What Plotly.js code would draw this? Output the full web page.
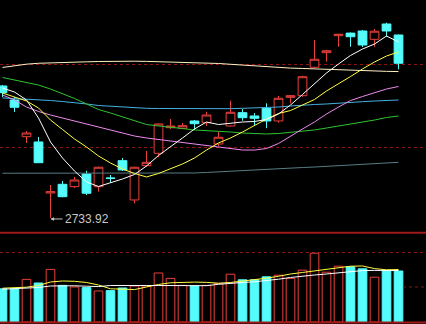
<!DOCTYPE html>
<html>
<head>
<meta charset="utf-8">
<script src="https://cdn.plot.ly/plotly-3.0.1.min.js"></script>
<style>html,body{margin:0;padding:0;background:#000;}#chart{width:426px;height:324px;}</style>
</head>
<body>
<div id="chart"></div>
<script>
// Trading days (categories)
const dates = ['07-31','08-01','08-02','08-05','08-06','08-07','08-08','08-09','08-12','08-13',
  '08-14','08-15','08-16','08-19','08-20','08-21','08-22','08-23','08-26','08-27',
  '08-28','08-29','08-30','09-02','09-03','09-04','09-05','09-06','09-09','09-10',
  '09-11','09-12','09-16','09-17'];

// Daily OHLC (index points)
const openP  = [2942.1,2920.0,2862.1,2853.8,2773.3,2787.0,2783.3,2803.3,2783.3,2797.0,
  2824.3,2762.3,2816.4,2835.9,2876.3,2875.4,2886.9,2884.2,2850.6,2879.0,
  2900.0,2894.8,2906.9,2886.9,2924.2,2926.8,2971.6,2994.6,3021.4,3025.5,
  3028.8,3015.7,3039.9,3022.5];
const highP  = [2943.6,2924.7,2871.1,2861.6,2785.9,2792.2,2798.6,2808.5,2815.0,2801.7,
  2828.5,2814.8,2839.6,2883.0,2890.0,2883.7,2888.5,2901.5,2870.0,2918.9,
  2905.8,2899.5,2914.8,2926.3,2927.9,2958.3,3014.6,2999.0,3024.5,3026.5,
  3030.4,3032.0,3041.9,3023.0];
const lowP   = [2924.7,2901.1,2852.2,2820.5,2733.92,2766.5,2781.2,2770.2,2775.4,2789.6,
  2808.0,2757.1,2814.8,2829.6,2874.3,2873.8,2872.7,2879.0,2847.4,2878.0,
  2887.3,2880.6,2875.5,2884.2,2914.8,2925.2,2970.5,2980.4,3004.0,3004.0,
  3003.6,3004.0,3019.8,2968.4];
const closeP = [2931.5,2908.5,2867.9,2821.1,2775.4,2767.5,2793.8,2772.9,2813.9,2796.5,
  2809.6,2813.9,2821.7,2882.1,2879.0,2879.5,2882.6,2896.3,2861.2,2900.6,
  2892.1,2891.1,2886.9,2922.7,2926.8,2956.7,2984.2,2997.7,3023.6,3019.8,
  3006.7,3028.5,3028.8,2977.9];

// Moving averages
const ma5   = [2938.9,2932.6,2920.0,2891.6,2853.8,2828.5,2808.0,2790.7,2783.6,2789.1,
  2795.4,2802.5,2815.9,2832.5,2845.9,2860.1,2874.3,2885.3,2881.3,2883.7,
  2885.3,2886.1,2889.2,2897.9,2912.1,2928.7,2945.2,2962.6,2976.8,2990.2,
  3000.4,3008.3,3020.9,3011.5];
const ma10  = [2931.0,2924.7,2918.4,2907.4,2888.4,2873.5,2858.5,2845.9,2831.7,2820.6,
  2811.2,2804.1,2798.6,2804.1,2811.2,2819.1,2828.5,2841.1,2852.2,2860.1,
  2869.5,2879.8,2890.0,2898.7,2903.4,2912.1,2920.8,2934.2,2945.2,2957.0,
  2968.9,2979.9,2989.4,2995.7];
const ma20  = [2927.9,2920.0,2908.9,2901.9,2896.3,2891.6,2886.9,2881.3,2876.6,2871.9,
  2867.2,2863.2,2860.1,2857.7,2855.3,2852.2,2849.8,2848.2,2845.9,2842.7,
  2841.1,2841.1,2843.5,2851.4,2863.2,2874.3,2885.3,2897.9,2908.9,2919.2,
  2925.5,2931.8,2937.3,2941.3];
const ma30  = [2955.5,2951.5,2948.4,2943.6,2937.3,2930.2,2922.4,2913.7,2905.0,2899.5,
  2893.2,2886.9,2881.3,2879.0,2877.4,2875.0,2872.7,2871.9,2871.1,2869.5,
  2867.9,2867.2,2866.4,2867.2,2868.7,2870.3,2872.7,2875.8,2879.0,2881.3,
  2884.5,2888.4,2892.4,2894.8];
const ma60  = [2923.2,2922.4,2921.9,2921.1,2919.2,2917.6,2916.0,2913.7,2911.3,2910.1,
  2908.9,2907.4,2906.9,2906.6,2906.4,2906.1,2905.8,2905.8,2905.8,2906.3,
  2906.9,2907.4,2908.2,2908.9,2910.5,2912.1,2912.9,2913.7,2915.3,2916.4,
  2917.3,2918.4,2919.2,2920.0];
const ma120 = [2971.3,2974.4,2976.5,2977.9,2978.7,2979.5,2979.9,2980.2,2980.7,2981.2,
  2981.5,2981.2,2980.9,2980.5,2980.2,2979.9,2979.2,2978.4,2977.6,2976.3,
  2974.9,2973.6,2972.0,2971.1,2970.3,2969.7,2968.9,2968.3,2967.6,2967.0,
  2966.3,2965.7,2965.2,2964.8];
const ma250 = [2804.5,2804.5,2804.5,2804.5,2804.5,2804.5,2804.5,2804.5,2804.5,2804.5,
  2804.5,2804.5,2804.5,2804.5,2804.5,2804.5,2804.9,2805.7,2806.8,2807.7,
  2808.7,2809.6,2810.5,2812.0,2812.8,2813.5,2814.3,2815.4,2816.5,2817.5,
  2818.6,2819.7,2820.6,2821.7];

// Volume and its moving averages
const volume = [166,166,213,195,263,183,175,172,155,157,
  170,180,180,245,218,183,180,183,192,239,
  211,211,226,234,218,259,344,249,279,276,
  266,224,257,255];
const volMaA = [169,171.5,174,182.5,200,205,203.5,197.5,185,166,
  162.5,162,175,187.5,196,199.5,199.5,198,194,197.5,
  203.5,211.5,219,228.5,240,247.5,255,262,270,279,
  280,267,261,262.5];
const volMaB = [164,167.5,169,172.5,180,181,181,179,177,182.5,
  183.5,183,182.5,182.5,182,181,180,181.5,188.5,194,
  197.5,201,206,214,222.5,230,235,240,246,252.5,
  257,258,258,257.5];

const RED = '#e8403c', CYAN = '#54fcfc', GRID = '#8c1414';
const up = closeP.map((c, i) => c >= openP[i]);

function line(y, color, yaxis) {
  return {type:'scatter', mode:'lines', x:dates, y:y, yaxis:yaxis||'y',
    line:{color:color, width:1}, hoverinfo:'skip'};
}

const data = [
  {type:'candlestick', x:dates, open:openP, high:highP, low:lowP, close:closeP,
   increasing:{line:{color:RED, width:1}, fillcolor:'#000000'},
   decreasing:{line:{color:CYAN, width:1}, fillcolor:CYAN},
   whiskerwidth:0, hoverinfo:'skip'},
  line(ma250, '#587c84'),
  line(ma120, '#fff2c4'),
  line(ma60, '#46b0e0'),
  line(ma30, '#2ec42e'),
  line(ma20, '#ee88ee'),
  line(ma10, '#ffff40'),
  line(ma5, '#ffffff'),
  {type:'bar', x:dates, y:volume, yaxis:'y2', width:0.72,
   marker:{color: up.map(u => u ? '#000000' : CYAN),
           line:{color: up.map(u => u ? RED : CYAN), width:1}},
   hoverinfo:'skip'},
  line(volMaA, '#ffff40', 'y2'),
  line(volMaB, '#ffffff', 'y2')
];

const lowest = Math.min(...lowP);
const lowIdx = lowP.indexOf(lowest);

const layout = {
  width:426, height:324, margin:{l:0,r:0,t:0,b:0},
  paper_bgcolor:'#000000', plot_bgcolor:'#000000', showlegend:false,
  boxgap:0.27, boxgroupgap:0,
  xaxis:{type:'category', range:[-0.208, 35.29], showgrid:false, zeroline:false,
    showticklabels:false, showline:false, ticks:'', rangeslider:{visible:false}, fixedrange:true},
  yaxis:{domain:[0.2818,1], range:[2710.7,3077.7], tickvals:[2844.3,2975.2],
    showticklabels:false, ticks:'', showgrid:true, gridcolor:GRID, griddash:'dot', gridwidth:1,
    zeroline:false, showline:false},
  yaxis2:{domain:[0.0062,0.2809], range:[0,445], tickvals:[346.5], anchor:'x',
    showticklabels:false, ticks:'', showgrid:true, gridcolor:GRID, griddash:'dot', gridwidth:1,
    zeroline:false, showline:false},
  shapes:[
    {type:'line', xref:'paper', yref:'paper', x0:0, x1:1, y0:0.2815, y1:0.2815,
     line:{color:'#a01a1a', width:2}},
    {type:'line', xref:'paper', yref:'paper', x0:0, x1:1, y0:0.005, y1:0.005,
     line:{color:'#a01a1a', width:2}},
    {type:'line', xref:'paper', yref:'y2', x0:0.946, x1:1, y0:175, y1:175,
     line:{color:GRID, width:1, dash:'dot'}}
  ],
  annotations:[
    {x:dates[lowIdx], y:lowest, xref:'x', yref:'y', text:String(lowest.toFixed(2)),
     showarrow:true, ax:12, ay:0, xanchor:'left', arrowhead:2, arrowsize:0.7, arrowwidth:1,
     arrowcolor:'#c8c8c8', standoff:0, yshift:-1,
     font:{family:'Liberation Sans, Arial, sans-serif', size:12, color:'#c8c8c8'}}
  ]
};

Plotly.newPlot('chart', data, layout, {displayModeBar:false, staticPlot:true});
</script>
</body>
</html>
